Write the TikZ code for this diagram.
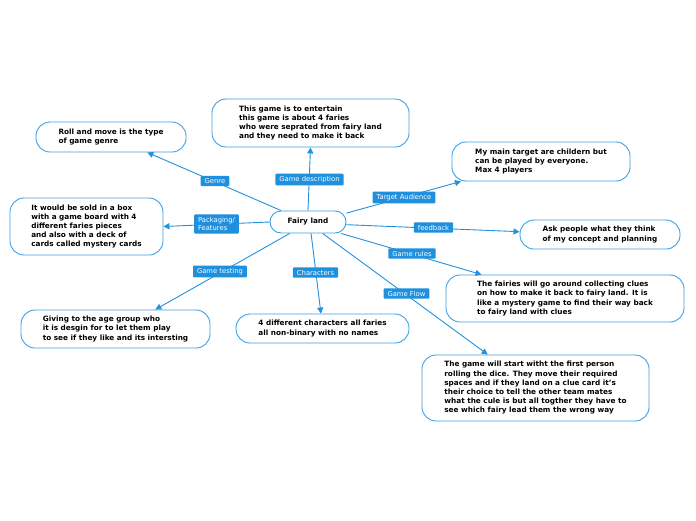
\documentclass[tikz,border=0pt]{standalone}
\usepackage{fontspec}
\setmainfont{DejaVu Sans}
\usetikzlibrary{arrows.meta}
\definecolor{mmline}{RGB}{35,145,220}
\definecolor{mmbox}{RGB}{60,160,228}
\definecolor{mmlab}{RGB}{30,144,222}
\tikzset{
  topic/.style={draw=mmbox, line width=0.9pt, rounded corners=14pt, fill=white,
    align=left, inner sep=0pt, font=\bfseries\fontsize{7.3}{9.2}\selectfont, text=black},
  centre/.style={draw=mmbox, line width=0.9pt, rounded corners=11pt, fill=white,
    inner sep=0pt, minimum width=76pt, minimum height=22pt,
    font=\bfseries\fontsize{7.3}{9}\selectfont},
  lab/.style={fill=mmlab, text=white, rounded corners=1pt, inner xsep=4pt, inner ysep=2.6pt,
    align=left, font=\fontsize{6.8}{8.6}\selectfont},
  conn/.style={draw=mmline, line width=0.9pt, -{Triangle[length=6pt,width=6pt]}}
}
\begin{document}
\begin{tikzpicture}[x=1pt,y=-1pt]
\useasboundingbox[fill=white] (0,0) rectangle (696,520);

\node[centre] (fl) at (308,222) {Fairy land};

\node[topic, minimum width=197pt, minimum height=48pt] (desc) at (310.5,123)
  {This game is to entertain\\this game is about 4 faries\\who were seprated from fairy land\\and they need to make it back};
\node[topic, minimum width=150pt, minimum height=30pt] (genre) at (111,137)
  {Roll and move is the type\\of game genre};
\node[topic, minimum width=153pt, minimum height=57pt] (pack) at (86.5,226.5)
  {It would be sold in a box\\with a game board with 4\\different faries pieces\\and also with a deck of\\cards called mystery cards};
\node[topic, minimum width=178pt, minimum height=39pt] (target) at (541,161.5)
  {My main target are childern but\\can be played by everyone.\\Max 4 players};
\node[topic, minimum width=160pt, minimum height=29pt] (feed) at (600,234.5)
  {Ask people what they think\\of my concept and planning};
\node[topic, minimum width=238pt, minimum height=47pt] (rules) at (565,298.5)
  {The fairies will go around collecting clues\\on how to make it back to fairy land. It is\\like a mystery game to find their way back\\to fairy land with clues};
\node[topic, minimum width=227pt, minimum height=66pt] (flow) at (535.5,388)
  {The game will start witht the first person\\rolling the dice. They move their required\\spaces and if they land on a clue card it's\\their choice to tell the other team mates\\what the cule is but all togther they have to\\see which fairy lead them the wrong way};
\node[topic, minimum width=189pt, minimum height=38pt] (test) at (115.5,329)
  {Giving to the age group who\\it is desgin for to let them play\\to see if they like and its intersting};
\node[topic, minimum width=173pt, minimum height=29pt] (chars) at (322.5,328.5)
  {4 different characters all faries\\all non-binary with no names};

\path[conn] (fl.157) -- (genre.-23);
\path[conn] (fl.90) -- (desc.-90);
\path[conn] (fl.13) -- (target.194.6);
\path[conn] (fl.180) -- (pack.0);
\path[conn] (fl.-4) -- (feed.178);
\path[conn] (fl.-19) -- (rules.164);
\path[conn] (fl.212.5) -- (test.26.3);
\path[conn] (fl.-75) -- (chars.96);
\path[conn] (fl.-38) -- (flow.145);

\node[lab] (lgenre) at (215,181) {Genre};
\node[lab] (ldesc) at (309.5,179.5) {Game description};
\node[lab] (ltarget) at (404,197.5) {Target Audience};
\node[lab] (lpack) at (216.5,224) {Packaging/\\Features};
\node[lab] (lfeed) at (433.5,227.5) {feedback};
\node[lab] (lrules) at (412,253.5) {Game rules};
\node[lab] (ltest) at (220,271.5) {Game testing};
\node[lab] (lchars) at (315.5,272.5) {Characters};
\node[lab] (lflow) at (406.5,293.5) {Game Flow};
\end{tikzpicture}
\end{document}
